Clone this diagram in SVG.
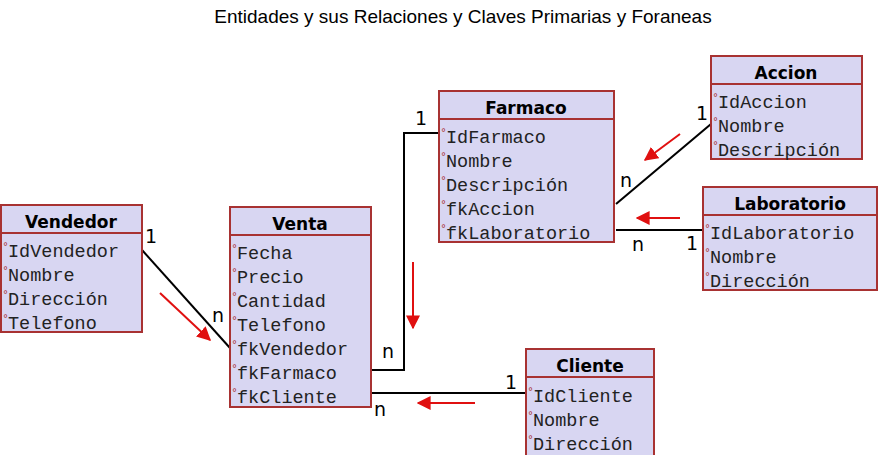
<svg xmlns="http://www.w3.org/2000/svg" width="880" height="455" viewBox="0 0 880 455">
<style>
.box{fill:#d8d6f2;stroke:#a83232;stroke-width:2}
.hd{font-family:"DejaVu Sans",sans-serif;font-weight:bold;font-size:17px;text-anchor:middle;fill:#000}
.f{font-family:"Courier New","Liberation Mono",Cousine,"Nimbus Mono PS",Courier,monospace;font-size:18.5px;fill:#222}
.dot{font-family:"DejaVu Sans",sans-serif;font-size:10px;fill:#a83232}
.lb{font-family:"DejaVu Sans",sans-serif;font-size:19px;fill:#000}
.ln{fill:none;stroke:#000;stroke-width:2}
.ar{fill:none;stroke:#e01010;stroke-width:2;marker-end:url(#a)}
</style>
<defs><marker id="a" viewBox="0 0 10 10" refX="9" refY="5" markerWidth="7" markerHeight="7" orient="auto"><path d="M0,0L10,5L0,10z" fill="#e01010"/></marker></defs>
<rect width="880" height="455" fill="#fff"/>
<text x="463" y="23" font-family="Liberation Sans, sans-serif" font-size="19" text-anchor="middle">Entidades y sus Relaciones y Claves Primarias y Foraneas</text>
<g id="connectors">
<path class="ln" d="M142,250L230,348"/>
<path class="ln" d="M371,370H404V133H439"/>
<path class="ln" d="M371,393H526"/>
<path class="ln" d="M616,204L711,124"/>
<path class="ln" d="M616,230H703"/>
<path class="ar" d="M160,293L210,340"/>
<path class="ar" d="M413,262V328"/>
<path class="ar" d="M475,403H418"/>
<path class="ar" d="M680,134L645,160"/>
<path class="ar" d="M680,218H637"/>
<text class="lb" x="145" y="243">1</text><text class="lb" x="212" y="322">n</text>
<text class="lb" x="415" y="125">1</text><text class="lb" x="382" y="358">n</text>
<text class="lb" x="505" y="389">1</text><text class="lb" x="374" y="416">n</text>
<text class="lb" x="696" y="120">1</text><text class="lb" x="620" y="187">n</text>
<text class="lb" x="686" y="250">1</text><text class="lb" x="632" y="251">n</text>
</g>
<g id="vendedor">
<rect class="box" x="1" y="205" width="141" height="127"/><line class="box" x1="1" y1="233" x2="142" y2="233"/>
<text class="hd" x="71" y="228">Vendedor</text>
<text class="f" x="3" y="257"><tspan class="dot" dy="-7">°</tspan><tspan dy="7">IdVendedor</tspan></text>
<text class="f" x="3" y="281"><tspan class="dot" dy="-7">°</tspan><tspan dy="7">Nombre</tspan></text>
<text class="f" x="3" y="305"><tspan class="dot" dy="-7">°</tspan><tspan dy="7">Dirección</tspan></text>
<text class="f" x="3" y="329"><tspan class="dot" dy="-7">°</tspan><tspan dy="7">Telefono</tspan></text>
</g>
<g id="venta">
<rect class="box" x="230" y="207" width="141" height="200"/><line class="box" x1="230" y1="235" x2="371" y2="235"/>
<text class="hd" x="300" y="230">Venta</text>
<text class="f" x="232" y="259"><tspan class="dot" dy="-7">°</tspan><tspan dy="7">Fecha</tspan></text>
<text class="f" x="232" y="283"><tspan class="dot" dy="-7">°</tspan><tspan dy="7">Precio</tspan></text>
<text class="f" x="232" y="307"><tspan class="dot" dy="-7">°</tspan><tspan dy="7">Cantidad</tspan></text>
<text class="f" x="232" y="331"><tspan class="dot" dy="-7">°</tspan><tspan dy="7">Telefono</tspan></text>
<text class="f" x="232" y="355"><tspan class="dot" dy="-7">°</tspan><tspan dy="7">fkVendedor</tspan></text>
<text class="f" x="232" y="379"><tspan class="dot" dy="-7">°</tspan><tspan dy="7">fkFarmaco</tspan></text>
<text class="f" x="232" y="403"><tspan class="dot" dy="-7">°</tspan><tspan dy="7">fkCliente</tspan></text>
</g>
<g id="farmaco">
<rect class="box" x="439" y="91" width="175" height="151"/><line class="box" x1="439" y1="119" x2="614" y2="119"/>
<text class="hd" x="526" y="114">Farmaco</text>
<text class="f" x="441" y="143"><tspan class="dot" dy="-7">°</tspan><tspan dy="7">IdFarmaco</tspan></text>
<text class="f" x="441" y="167"><tspan class="dot" dy="-7">°</tspan><tspan dy="7">Nombre</tspan></text>
<text class="f" x="441" y="191"><tspan class="dot" dy="-7">°</tspan><tspan dy="7">Descripción</tspan></text>
<text class="f" x="441" y="215"><tspan class="dot" dy="-7">°</tspan><tspan dy="7">fkAccion</tspan></text>
<text class="f" x="441" y="239"><tspan class="dot" dy="-7">°</tspan><tspan dy="7">fkLaboratorio</tspan></text>
</g>
<g id="accion">
<rect class="box" x="711" y="56" width="151" height="103"/><line class="box" x1="711" y1="84" x2="862" y2="84"/>
<text class="hd" x="786" y="79">Accion</text>
<text class="f" x="713" y="108"><tspan class="dot" dy="-7">°</tspan><tspan dy="7">IdAccion</tspan></text>
<text class="f" x="713" y="132"><tspan class="dot" dy="-7">°</tspan><tspan dy="7">Nombre</tspan></text>
<text class="f" x="713" y="156"><tspan class="dot" dy="-7">°</tspan><tspan dy="7">Descripción</tspan></text>
</g>
<g id="laboratorio">
<rect class="box" x="703" y="187" width="174" height="103"/><line class="box" x1="703" y1="215" x2="877" y2="215"/>
<text class="hd" x="790" y="210">Laboratorio</text>
<text class="f" x="705" y="239"><tspan class="dot" dy="-7">°</tspan><tspan dy="7">IdLaboratorio</tspan></text>
<text class="f" x="705" y="263"><tspan class="dot" dy="-7">°</tspan><tspan dy="7">Nombre</tspan></text>
<text class="f" x="705" y="287"><tspan class="dot" dy="-7">°</tspan><tspan dy="7">Dirección</tspan></text>
</g>
<g id="cliente">
<rect class="box" x="526" y="349" width="128" height="110"/><line class="box" x1="526" y1="377" x2="654" y2="377"/>
<text class="hd" x="590" y="372">Cliente</text>
<text class="f" x="528" y="402"><tspan class="dot" dy="-7">°</tspan><tspan dy="7">IdCliente</tspan></text>
<text class="f" x="528" y="426"><tspan class="dot" dy="-7">°</tspan><tspan dy="7">Nombre</tspan></text>
<text class="f" x="528" y="450"><tspan class="dot" dy="-7">°</tspan><tspan dy="7">Dirección</tspan></text>
</g>
</svg>
